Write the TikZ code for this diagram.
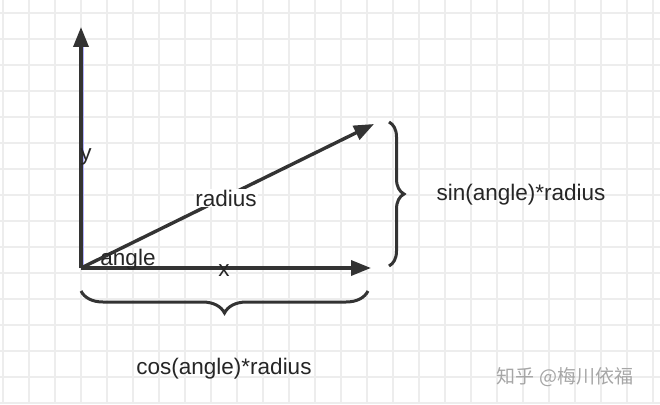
\documentclass[tikz,border=0pt]{standalone}
\usepackage{fontspec}
\setmainfont{Liberation Sans}
\newfontfamily\cjk{Noto Sans CJK SC}
\usetikzlibrary{arrows.meta,decorations.pathreplacing}
\begin{document}
\begin{tikzpicture}[x=1pt,y=-1pt,
  ln/.style={line width=3.4pt,draw=black!80,-{Triangle[length=20pt,width=15pt]}},
  br/.style={line width=3pt,draw=black!80,decorate,decoration={brace,amplitude=#1}},
  lbl/.style={font=\fontsize{22.5}{25}\selectfont,text=black!85,inner sep=1pt}]
\useasboundingbox (0,0) rectangle (660,404);
\fill[white] (0,0) rectangle (660,404);
\foreach \i in {0,...,25} {\draw[black!7,line width=2pt] (3+26*\i,0) -- (3+26*\i,404);}
\foreach \j in {0,...,15} {\draw[black!7,line width=2pt] (0,12.7+26*\j) -- (660,12.7+26*\j);}
\coordinate (o) at (81,268);
\coordinate (yt) at (81,27);
\coordinate (xt) at (371,268);
\coordinate (rt) at (374,124);
\draw[line width=5pt,blue!30] (o) -- (81,45);
\draw[ln] (o) -- (yt);
\draw[ln] (o) -- (xt);
\draw[ln] (o) -- (rt);
\coordinate (b1) at (389,122);
\coordinate (b2) at (389,266);
\draw[br=15pt] (b1) -- (b2);
\coordinate (c1) at (368,291);
\coordinate (c2) at (81,291);
\draw[br=22pt] (c1) -- (c2);
\node[lbl] (ly) at (86,157) {y};
\node[lbl,fill=white] (lr) at (226,198) {radius};
\node[lbl] (la) at (128,260) {angle};
\node[lbl] (lx) at (224,271) {x};
\node[lbl] (ls) at (521,195) {sin(angle)*radius};
\node[lbl] (lc) at (224,369) {cos(angle)*radius};
\node[text=black!35,font=\cjk\fontsize{19}{20}\selectfont] (wm) at (565,377) {知乎 @梅川依福};
\end{tikzpicture}
\end{document}
